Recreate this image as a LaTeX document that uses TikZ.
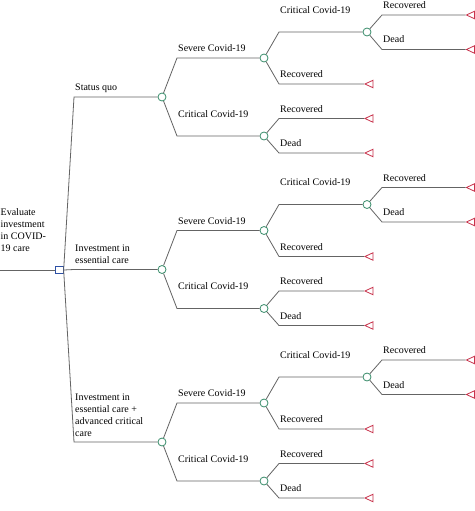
\documentclass[tikz,border=0pt]{standalone}
\usepackage{fontspec}
\setmainfont{Liberation Serif}
\usetikzlibrary{shapes.geometric}
\definecolor{linec}{RGB}{100,100,100}
\definecolor{chancec}{RGB}{55,140,105}
\definecolor{termc}{RGB}{200,50,75}
\definecolor{decc}{RGB}{45,80,165}
\begin{document}
\begin{tikzpicture}[x=1pt,y=-1pt,
  br/.style={draw=linec, line width=0.8pt},
  chance/.style={circle, draw=chancec, fill=white, line width=0.8pt, minimum size=8pt, inner sep=0pt},
  term/.style={isosceles triangle, isosceles triangle apex angle=50, shape border rotate=180,
    draw=termc, fill=white, line width=0.8pt, inner sep=0pt, minimum height=8pt, minimum width=7pt, anchor=apex},
  decision/.style={rectangle, draw=decc, fill=white, line width=0.8pt, minimum size=7.5pt, inner sep=0pt},
  lbl/.style={font=\fontsize{10}{12}\selectfont, inner sep=0pt, anchor=base west, align=left},
]
\fill[white] (0,0) rectangle (474,511);
\useasboundingbox (0,0) rectangle (474,511);

% root
\coordinate (start) at (0,270);
\node[decision] (root) at (59.5,270) {};
\draw[br] (start) -- (root.west);
\node[lbl, font=\fontsize{10}{12}\selectfont] (title) at (0.5,251.5) {Evaluate\\investment\\in COVID-\\19 care};

\foreach \k/\dy in {0/0,1/172.5,2/345}{
  % level 1
  \coordinate (a\k) at (74,97+\dy);
  \node[chance] (n\k) at (162,97+\dy) {};
  \draw[br] (root.east) -- (a\k) -- (n\k);
  % level 2
  \coordinate (sc\k) at (177,58+\dy);
  \coordinate (cc\k) at (177,136+\dy);
  \node[chance] (s\k) at (264,58+\dy) {};
  \node[chance] (c\k) at (264,136+\dy) {};
  \draw[br] (n\k) -- (sc\k) -- (s\k);
  \draw[br] (n\k) -- (cc\k) -- (c\k);
  \node[lbl] (ls\k) at (178,58-6.5+\dy) {Severe Covid-19};
  \node[lbl] (lc\k) at (178,136-18.7+\dy) {Critical Covid-19};
  % level 3 from severe
  \coordinate (scc\k) at (279,32+\dy);
  \coordinate (src\k) at (279,84+\dy);
  \node[chance] (sc\k n) at (367,32+\dy) {};
  \node[term] (sr\k) at (364,84+\dy) {};
  \draw[br] (s\k) -- (scc\k) -- (sc\k n);
  \draw[br] (s\k) -- (src\k) -- (sr\k.apex);
  \node[lbl] (lscc\k) at (280,32-18.7+\dy) {Critical Covid-19};
  \node[lbl] (lsrc\k) at (280,84-6.5+\dy) {Recovered};
  % level 4
  \coordinate (rc\k) at (382,15+\dy);
  \coordinate (dc\k) at (382,49.5+\dy);
  \node[term] (r\k) at (465.5,15+\dy) {};
  \node[term] (d\k) at (465.5,49.5+\dy) {};
  \draw[br] (sc\k n) -- (rc\k) -- (r\k.apex);
  \draw[br] (sc\k n) -- (dc\k) -- (d\k.apex);
  \node[lbl] (lrc\k) at (383,15-6.5+\dy) {Recovered};
  \node[lbl] (ldc\k) at (383,49.5-6.5+\dy) {Dead};
  % level 3 from critical
  \coordinate (crc\k) at (279,118.5+\dy);
  \coordinate (cdc\k) at (279,153+\dy);
  \node[term] (cr\k) at (364,118.5+\dy) {};
  \node[term] (cd\k) at (364,153+\dy) {};
  \draw[br] (c\k) -- (crc\k) -- (cr\k.apex);
  \draw[br] (c\k) -- (cdc\k) -- (cd\k.apex);
  \node[lbl] (lcrc\k) at (280,118.5-6.5+\dy) {Recovered};
  \node[lbl] (lcdc\k) at (280,153-6.5+\dy) {Dead};
}

\node[lbl] (l0) at (75,97-6.5) {Status quo};
\node[lbl] (l1) at (75,270-6.5) {Investment in\\essential care};
\node[lbl] (l2) at (75,442-6) {Investment in\\essential care +\\advanced critical\\care};
\end{tikzpicture}
\end{document}
